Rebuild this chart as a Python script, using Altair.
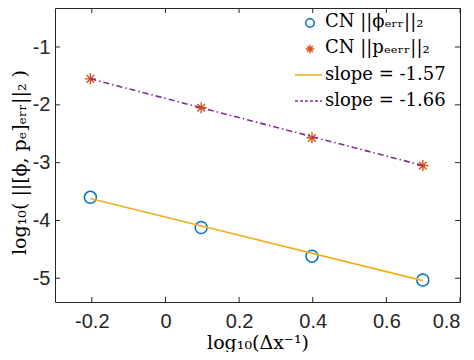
import altair as alt
import pandas as pd

# ---- data ----
log_inv_dx = [-0.204, 0.097, 0.398, 0.699]
phi_err = [-3.60, -4.12, -4.62, -5.03]
pe_err = [-1.55, -2.05, -2.57, -3.05]
fit_x = [-0.204, 0.699]
phi_fit = [-3.62, -5.04]
pe_fit = [-1.55, -3.05]
x_ticks = [-0.2, 0, 0.2, 0.4, 0.6, 0.8]
y_ticks = [-5, -4, -3, -2, -1]
legend_labels = ["CN ||ϕₑᵣᵣ||₂", "CN ||pₑₑᵣᵣ||₂", "slope = -1.57", "slope = -1.66"]

W, H = 405, 294
FRAME = "#262626"
BLUE, RED, ORANGE, PURPLE = "#0072BD", "#D95319", "#EDB120", "#7E2F8E"
STAR = "M-1,0L1,0M0,-1L0,1M-0.7,-0.7L0.7,0.7M-0.7,0.7L0.7,-0.7"
SERIF = "DejaVu Serif"

xs = alt.Scale(domain=[-0.3, 0.8], nice=False, zero=False)
ys = alt.Scale(domain=[-5.41, -0.325], nice=False, zero=False)

xaxis = alt.Axis(values=x_ticks, ticks=False, tickSize=0, domain=False, grid=False,
                 labelExpr="replace(format(datum.value, '~g'), '\u2212', '-')",
                 labelFont="Liberation Sans", labelFontSize=20, labelColor=FRAME,
                 labelPadding=9, labelFlush=True,
                 title="log₁₀(Δx⁻¹)", titleFont=SERIF, titleFontSize=19,
                 titleFontWeight="normal", titleColor="#000000",
                 titleBaseline="alphabetic", titleY=46, titleX=W / 2)
yaxis = alt.Axis(values=y_ticks, ticks=False, tickSize=0, domain=False, grid=False,
                 labelExpr="replace(format(datum.value, '~g'), '\u2212', '-')",
                 labelFont="Liberation Sans", labelFontSize=20, labelColor=FRAME,
                 labelPadding=5,
                 title="log₁₀( ||[ϕ, pₑ]ₑᵣᵣ||₂ )", titleFont=SERIF, titleFontSize=19,
                 titleFontWeight="normal", titleColor="#000000",
                 titleAngle=270, titleBaseline="alphabetic", titleAlign="center",
                 titleX=-30, titleY=154)

X = alt.X("x:Q", scale=xs, axis=xaxis)
Y = alt.Y("y:Q", scale=ys, axis=yaxis)

pts_phi = pd.DataFrame({"x": log_inv_dx, "y": phi_err})
pts_pe = pd.DataFrame({"x": log_inv_dx, "y": pe_err})
line_phi = pd.DataFrame({"x": fit_x, "y": phi_fit})
line_pe = pd.DataFrame({"x": fit_x, "y": pe_fit})
xt = pd.DataFrame({"x": x_ticks})
yt = pd.DataFrame({"y": y_ticks})

circles = alt.Chart(pts_phi).mark_point(shape="circle", size=144, filled=False,
                                         strokeWidth=1.5, color=BLUE, opacity=1).encode(x=X, y=Y)
stars = alt.Chart(pts_pe).mark_point(shape=STAR, size=121, filled=False,
                                      strokeWidth=1.4, color=RED, opacity=1).encode(x=X, y=Y)
l_phi = alt.Chart(line_phi).mark_line(color=ORANGE, strokeWidth=1.6).encode(x=X, y=Y)
l_pe = alt.Chart(line_pe).mark_line(color=PURPLE, strokeWidth=1.6,
                                     strokeDash=[6, 3, 1.5, 3]).encode(x=X, y=Y)

tick_b = alt.Chart(xt).mark_rule(color=FRAME, strokeWidth=1).encode(
    x=X, y=alt.value(H - 5), y2=alt.value(H))
tick_t = alt.Chart(xt).mark_rule(color=FRAME, strokeWidth=1).encode(
    x=X, y=alt.value(0), y2=alt.value(5))
tick_l = alt.Chart(yt).mark_rule(color=FRAME, strokeWidth=1).encode(
    y=Y, x=alt.value(0), x2=alt.value(5))
tick_r = alt.Chart(yt).mark_rule(color=FRAME, strokeWidth=1).encode(
    y=Y, x=alt.value(W - 5), x2=alt.value(W))

# ---- legend (top-right, no box) ----
one = pd.DataFrame({"k": [0]})
leg_x_sym, leg_x_txt = 255, 270
leg_base = [19, 45, 72, 98]
leg_mid = [15, 41, 67, 93]

leg = [
    alt.Chart(one).mark_point(shape="circle", size=72, filled=False, strokeWidth=1.5,
                              color=BLUE, opacity=1).encode(x=alt.value(leg_x_sym), y=alt.value(leg_mid[0])),
    alt.Chart(one).mark_point(shape=STAR, size=72, filled=False, strokeWidth=1.4,
                              color=RED, opacity=1).encode(x=alt.value(leg_x_sym), y=alt.value(leg_mid[1])),
    alt.Chart(one).mark_rule(color=ORANGE, strokeWidth=1.6).encode(
        x=alt.value(240), x2=alt.value(267), y=alt.value(leg_mid[2])),
    alt.Chart(one).mark_rule(color=PURPLE, strokeWidth=1.6, strokeDash=[3, 2]).encode(
        x=alt.value(240), x2=alt.value(267), y=alt.value(leg_mid[3])),
]
for lab, b in zip(legend_labels, leg_base):
    leg.append(alt.Chart(one).mark_text(align="left", baseline="alphabetic", font=SERIF,
                                        fontSize=18, color="#000000").encode(
        x=alt.value(leg_x_txt), y=alt.value(b), text=alt.value(lab)))

chart = alt.layer(circles, stars, l_phi, l_pe, tick_b, tick_t, tick_l, tick_r, *leg).properties(
    width=W, height=H,
    autosize=alt.AutoSizeParams(type="none"),
    padding={"left": 47, "top": 0, "right": 6, "bottom": 50},
    background="white",
).configure_view(stroke=FRAME, strokeWidth=1)

chart.save("out.html", embed_options={"renderer": "svg", "actions": False})
